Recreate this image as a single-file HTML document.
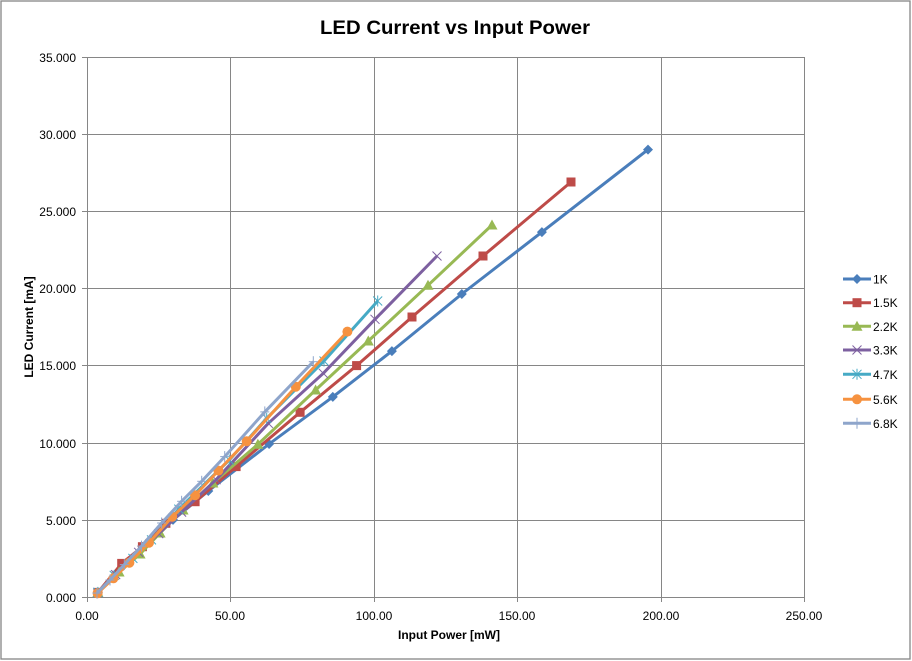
<!DOCTYPE html>
<html><head><meta charset="utf-8"><style>
html,body{margin:0;padding:0;background:#fff;}
svg{display:block;}
text{font-family:"Liberation Sans",Arial,sans-serif;fill:#000;}
</style></head><body>
<svg width="912" height="661" viewBox="0 0 912 661" xmlns="http://www.w3.org/2000/svg">
<defs>
<polygon id="mD" points="0,-5 5,0 0,5 -5,0" fill="#4A7EBB"/>
<rect id="mS" x="-4.5" y="-4.5" width="9" height="9" fill="#BE4B48"/>
<polygon id="mT" points="0,-5.5 5.5,4.5 -5.5,4.5" fill="#98B954"/>
<g id="mX" stroke="#7D60A0" stroke-width="1"><line x1="-4.5" y1="-4.5" x2="4.5" y2="4.5"/><line x1="-4.5" y1="4.5" x2="4.5" y2="-4.5"/></g>
<g id="mA" stroke="#46AAC5" stroke-width="1"><line x1="-4.5" y1="-4.5" x2="4.5" y2="4.5"/><line x1="-4.5" y1="4.5" x2="4.5" y2="-4.5"/><line x1="0" y1="-5.5" x2="0" y2="5.5"/></g>
<circle id="mC" r="5" fill="#F69240"/>
<g id="mP" stroke="#8EA5CB" stroke-width="1"><line x1="0" y1="-5.5" x2="0" y2="5.5"/><line x1="-4.5" y1="0" x2="4.5" y2="0"/></g>
</defs>
<rect x="1" y="1" width="909" height="658" fill="#fff" stroke="#868686" stroke-width="1.3"/>
<text x="455" y="34" text-anchor="middle" font-size="19" font-weight="bold" textLength="270" lengthAdjust="spacingAndGlyphs">LED Current vs Input Power</text>
<g stroke="#868686" stroke-width="1" fill="none">
<line x1="82" y1="57.5" x2="804" y2="57.5"/>
<line x1="82" y1="134.5" x2="804" y2="134.5"/>
<line x1="82" y1="211.5" x2="804" y2="211.5"/>
<line x1="82" y1="288.5" x2="804" y2="288.5"/>
<line x1="82" y1="365.5" x2="804" y2="365.5"/>
<line x1="82" y1="443.5" x2="804" y2="443.5"/>
<line x1="82" y1="520.5" x2="804" y2="520.5"/>
<line x1="82" y1="597.5" x2="804" y2="597.5"/>
<line x1="87.5" y1="57" x2="87.5" y2="602"/>
<line x1="230.5" y1="57" x2="230.5" y2="602"/>
<line x1="374.5" y1="57" x2="374.5" y2="602"/>
<line x1="517.5" y1="57" x2="517.5" y2="602"/>
<line x1="661.5" y1="57" x2="661.5" y2="602"/>
<line x1="804.5" y1="57" x2="804.5" y2="602"/>
</g>
<g font-size="12" text-anchor="end">
<text x="76" y="62">35.000</text>
<text x="76" y="139">30.000</text>
<text x="76" y="216">25.000</text>
<text x="76" y="293">20.000</text>
<text x="76" y="370">15.000</text>
<text x="76" y="448">10.000</text>
<text x="76" y="525">5.000</text>
<text x="76" y="602">0.000</text>
</g>
<g font-size="12" text-anchor="middle">
<text x="87" y="620">0.00</text>
<text x="230" y="620">50.00</text>
<text x="374" y="620">100.00</text>
<text x="517" y="620">150.00</text>
<text x="661" y="620">200.00</text>
<text x="804" y="620">250.00</text>
</g>
<text x="449" y="639" font-size="12" font-weight="bold" text-anchor="middle">Input Power [mW]</text>
<text transform="translate(33,327) rotate(-90)" font-size="12" font-weight="bold" text-anchor="middle">LED Current [mA]</text>

<polyline fill="none" stroke-width="3" stroke-linejoin="round" stroke="#4A7EBB" points="97.9,592.4 122.9,566.1 147.2,543 173,519.9 208.3,491 269.1,444 332.8,396.9 391.9,351.1 461.8,294 541.9,232.1 648,149.6"/>
<g>
<use href="#mD" x="97.9" y="592.4"/><use href="#mD" x="122.9" y="566.1"/><use href="#mD" x="147.2" y="543"/><use href="#mD" x="173" y="519.9"/><use href="#mD" x="208.3" y="491"/><use href="#mD" x="269.1" y="444"/><use href="#mD" x="332.8" y="396.9"/><use href="#mD" x="391.9" y="351.1"/><use href="#mD" x="461.8" y="294"/><use href="#mD" x="541.9" y="232.1"/><use href="#mD" x="648" y="149.6"/>
</g>
<polyline fill="none" stroke-width="3" stroke-linejoin="round" stroke="#BE4B48" points="97.9,592.4 121.7,563.4 142.4,546.7 165.9,523.3 195.1,501.7 236.1,466.6 300.1,412.3 356.6,365.6 412,317 483,256 571,182"/>
<g>
<use href="#mS" x="97.9" y="592.4"/><use href="#mS" x="121.7" y="563.4"/><use href="#mS" x="142.4" y="546.7"/><use href="#mS" x="165.9" y="523.3"/><use href="#mS" x="195.1" y="501.7"/><use href="#mS" x="236.1" y="466.6"/><use href="#mS" x="300.1" y="412.3"/><use href="#mS" x="356.6" y="365.6"/><use href="#mS" x="412" y="317"/><use href="#mS" x="483" y="256"/><use href="#mS" x="571" y="182"/>
</g>
<polyline fill="none" stroke-width="3" stroke-linejoin="round" stroke="#98B954" points="97.9,592.4 119.1,572 140.1,554 160.1,533 183.1,510 212.9,483 257.9,444.3 315.6,390 368.3,341 428,285.3 492,225"/>
<g>
<use href="#mT" x="97.9" y="592.4"/><use href="#mT" x="119.1" y="572"/><use href="#mT" x="140.1" y="554"/><use href="#mT" x="160.1" y="533"/><use href="#mT" x="183.1" y="510"/><use href="#mT" x="212.9" y="483"/><use href="#mT" x="257.9" y="444.3"/><use href="#mT" x="315.6" y="390"/><use href="#mT" x="368.3" y="341"/><use href="#mT" x="428" y="285.3"/><use href="#mT" x="492" y="225"/>
</g>
<polyline fill="none" stroke-width="3" stroke-linejoin="round" stroke="#7D60A0" points="97.9,592.4 115.7,574.6 138.6,552.3 158.7,533.7 181.6,512.1 216.1,479.7 268.3,423.3 323.3,373.3 375,319.3 437,256"/>
<g>
<use href="#mX" x="97.9" y="592.4"/><use href="#mX" x="115.7" y="574.6"/><use href="#mX" x="138.6" y="552.3"/><use href="#mX" x="158.7" y="533.7"/><use href="#mX" x="181.6" y="512.1"/><use href="#mX" x="216.1" y="479.7"/><use href="#mX" x="268.3" y="423.3"/><use href="#mX" x="323.3" y="373.3"/><use href="#mX" x="375" y="319.3"/><use href="#mX" x="437" y="256"/>
</g>
<polyline fill="none" stroke-width="3" stroke-linejoin="round" stroke="#46AAC5" points="97.9,592.4 114.2,575.4 132.9,558.4 151.5,539.9 178.8,509.1 229.3,460 266.7,418.3 324,361 377.7,301"/>
<g>
<use href="#mA" x="97.9" y="592.4"/><use href="#mA" x="114.2" y="575.4"/><use href="#mA" x="132.9" y="558.4"/><use href="#mA" x="151.5" y="539.9"/><use href="#mA" x="178.8" y="509.1"/><use href="#mA" x="229.3" y="460"/><use href="#mA" x="266.7" y="418.3"/><use href="#mA" x="324" y="361"/><use href="#mA" x="377.7" y="301"/>
</g>
<polyline fill="none" stroke-width="3" stroke-linejoin="round" stroke="#F69240" points="97.6,593.3 113.4,578.3 129.4,562.7 149,542.7 172.2,516.8 195.1,495.2 218.4,470.6 246.7,441.2 295.8,386.7 347.4,331.6"/>
<g>
<use href="#mC" x="97.6" y="593.3"/><use href="#mC" x="113.4" y="578.3"/><use href="#mC" x="129.4" y="562.7"/><use href="#mC" x="149" y="542.7"/><use href="#mC" x="172.2" y="516.8"/><use href="#mC" x="195.1" y="495.2"/><use href="#mC" x="218.4" y="470.6"/><use href="#mC" x="246.7" y="441.2"/><use href="#mC" x="295.8" y="386.7"/><use href="#mC" x="347.4" y="331.6"/>
</g>
<polyline fill="none" stroke-width="3" stroke-linejoin="round" stroke="#8EA5CB" points="97,593.1 110,580 124.3,564.6 141.5,546.1 161.6,523 181.6,501.3 201.7,481.3 224.7,456.6 264.8,411.9 313.3,361.7"/>
<g>
<use href="#mP" x="97" y="593.1"/><use href="#mP" x="110" y="580"/><use href="#mP" x="124.3" y="564.6"/><use href="#mP" x="141.5" y="546.1"/><use href="#mP" x="161.6" y="523"/><use href="#mP" x="181.6" y="501.3"/><use href="#mP" x="201.7" y="481.3"/><use href="#mP" x="224.7" y="456.6"/><use href="#mP" x="264.8" y="411.9"/><use href="#mP" x="313.3" y="361.7"/>
</g>

<g stroke-width="3" fill="none">
<line x1="843" y1="279" x2="871" y2="279" stroke="#4A7EBB"/>
<line x1="843" y1="302.7" x2="871" y2="302.7" stroke="#BE4B48"/>
<line x1="843" y1="326.3" x2="871" y2="326.3" stroke="#98B954"/>
<line x1="843" y1="350" x2="871" y2="350" stroke="#7D60A0"/>
<line x1="843" y1="374.3" x2="871" y2="374.3" stroke="#46AAC5"/>
<line x1="843" y1="399.3" x2="871" y2="399.3" stroke="#F69240"/>
<line x1="843" y1="423.3" x2="871" y2="423.3" stroke="#8EA5CB"/>
</g>
<use href="#mD" x="857" y="279"/>
<use href="#mS" x="857" y="302.7"/>
<use href="#mT" x="857" y="326.3"/>
<use href="#mX" x="857" y="350"/>
<use href="#mA" x="857" y="374.3"/>
<use href="#mC" x="857" y="399.3"/>
<use href="#mP" x="857" y="423.3"/>
<g font-size="12">
<text x="873" y="283.5">1K</text>
<text x="873" y="307.2">1.5K</text>
<text x="873" y="330.8">2.2K</text>
<text x="873" y="354.5">3.3K</text>
<text x="873" y="378.8">4.7K</text>
<text x="873" y="403.8">5.6K</text>
<text x="873" y="427.8">6.8K</text>
</g>
</svg>
</body></html>
